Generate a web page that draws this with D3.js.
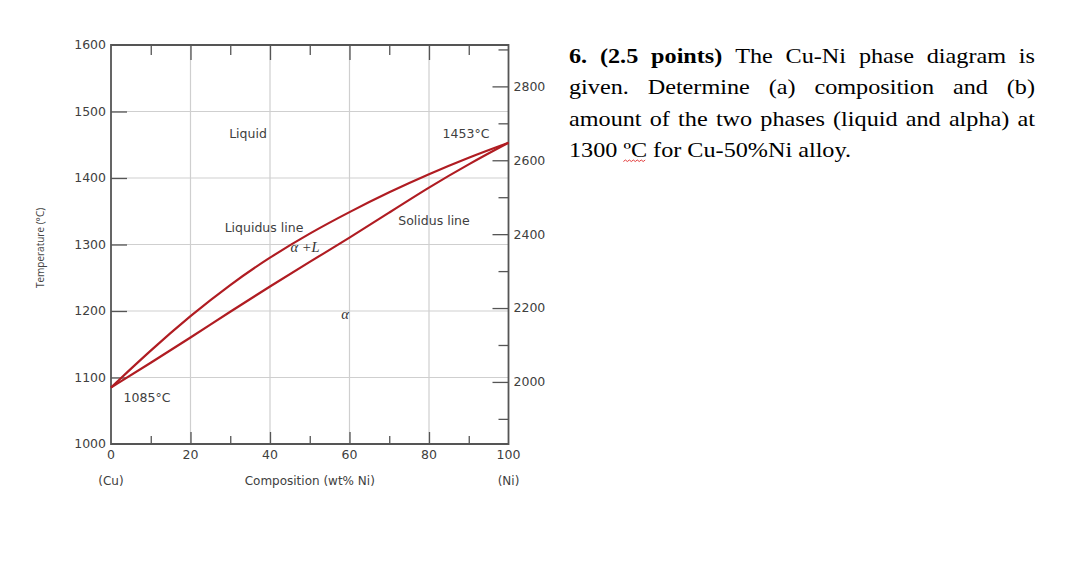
<!DOCTYPE html>
<html><head><meta charset="utf-8">
<script src="https://cdn.jsdelivr.net/npm/d3@7"></script>
<style>
body{margin:0;background:#fff;}
svg{display:block;}
</style></head>
<body>
<svg id="chart" width="1074" height="569"></svg>
<script>
// ---- data ----
const composition = [0,10,20,30,40,50,60,70,80,90,100];
const liquidus    = [1085,1141,1193,1240,1281,1317,1349,1379,1406,1431,1453];
const solidus     = [1085,1122,1160,1199,1237,1274,1310,1348,1386,1421,1453];
const xTickLabels = [0,20,40,60,80,100];
const xMinorTicks = [10,30,50,70,90];
const yTickLabels = [1000,1100,1200,1300,1400,1500,1600];
const fTickLabels = [2000,2200,2400,2600,2800];
const fMinorTicks = [1900,2100,2300,2500,2700,2900];
const questionLines = [
  {bold:"6. (2.5 points)", text:"The Cu-Ni phase diagram is", justify:true},
  {bold:"", text:"given. Determine (a) composition and (b)", justify:true},
  {bold:"", text:"amount of the two phases (liquid and alpha) at", justify:true},
  {bold:"", text:"1300 ºC for Cu-50%Ni alloy.", justify:false}
];

// ---- layout ----
const svg = d3.select("#chart");
const L = 111, T = 45, W = 397.5, H = 399;
const x = d3.scaleLinear().domain([0,100]).range([L, L+W]);
const y = d3.scaleLinear().domain([1000,1600]).range([T+H, T]);
const f2c = f => (f-32)*5/9;
const axisCol = "#555", gridCol = "#cfcfcf", txtCol = "#404040";
const sans = "DejaVu Sans, Verdana, sans-serif";
const tfs = 12.5;

// gridlines
const g = svg.append("g");
g.selectAll(".vg").data([20,40,60,80]).join("line")
  .attr("x1", d=>x(d)).attr("x2", d=>x(d)).attr("y1", T).attr("y2", T+H)
  .attr("stroke", gridCol).attr("stroke-width", 1.2);
g.selectAll(".hg").data([1100,1200,1300,1400,1500]).join("line")
  .attr("x1", L).attr("x2", L+W).attr("y1", d=>y(d)).attr("y2", d=>y(d))
  .attr("stroke", gridCol).attr("stroke-width", 1.2);

// axes using d3 axis generators (inner ticks)
const fmtNone = () => "";
function style(s){ s.select(".domain").remove(); s.selectAll("line").attr("stroke", axisCol).attr("stroke-width",1.3); }
svg.append("g").attr("transform", `translate(${L},0)`)
  .call(d3.axisRight(y).tickValues(yTickLabels.slice(1,6)).tickSize(16).tickFormat(fmtNone)).call(style);
svg.append("g").attr("transform", `translate(0,${T+H})`)
  .call(d3.axisTop(x).tickValues([20,40,60,80]).tickSize(12).tickFormat(fmtNone)).call(style);
svg.append("g").attr("transform", `translate(0,${T+H})`)
  .call(d3.axisTop(x).tickValues(xMinorTicks).tickSize(8).tickFormat(fmtNone)).call(style);
svg.append("g").attr("transform", `translate(0,${T})`)
  .call(d3.axisBottom(x).tickValues([20,40,60,80]).tickSize(15).tickFormat(fmtNone)).call(style);
svg.append("g").attr("transform", `translate(0,${T})`)
  .call(d3.axisBottom(x).tickValues(xMinorTicks).tickSize(10).tickFormat(fmtNone)).call(style);
// right Fahrenheit axis
svg.append("g").attr("transform", `translate(${L+W},0)`)
  .call(d3.axisLeft(y).tickValues(fTickLabels.map(f2c)).tickSize(16).tickFormat(fmtNone)).call(style);
svg.append("g").attr("transform", `translate(${L+W},0)`)
  .call(d3.axisLeft(y).tickValues(fMinorTicks.map(f2c)).tickSize(10).tickFormat(fmtNone)).call(style);

// frame
svg.append("path")
  .attr("d", `M${L},${T}H${L+W}V${T+H}H${L}Z`)
  .attr("fill","none").attr("stroke", axisCol).attr("stroke-width",1.8);

// tick labels
svg.selectAll(".yl").data(yTickLabels).join("text")
  .attr("x", L-5).attr("y", d=>y(d)).attr("dy","0.35em")
  .attr("text-anchor","end").attr("font-family",sans).attr("font-size",tfs)
  .attr("fill",txtCol).text(d=>d);
svg.selectAll(".xl").data(xTickLabels).join("text")
  .attr("x", d=>x(d)).attr("y", T+H+15)
  .attr("text-anchor","middle").attr("font-family",sans).attr("font-size",tfs)
  .attr("fill",txtCol).text(d=>d);
svg.selectAll(".fl").data(fTickLabels).join("text")
  .attr("x", L+W+5).attr("y", d=>y(f2c(d))).attr("dy","0.35em")
  .attr("text-anchor","start").attr("font-family",sans).attr("font-size",tfs)
  .attr("fill",txtCol).text(d=>d);

// axis titles
const lab = (t, xx, yy, anchor, size) =>
  svg.append("text").attr("x",xx).attr("y",yy).attr("text-anchor",anchor)
    .attr("font-family",sans).attr("font-size",size).attr("fill",txtCol).text(t);
lab("(Cu)", x(0), 485, "middle", 12);
lab("Composition (wt% Ni)", x(50), 485, "middle", 12);
lab("(Ni)", x(100), 485, "middle", 12);
svg.append("text").attr("transform","translate(44,248) rotate(-90)")
  .attr("text-anchor","middle").attr("font-family","Open Sans, Liberation Sans, sans-serif")
  .attr("font-size",10).attr("fill","#444").text("Temperature (°C)");

// curves
const line = d3.line().x((d,i)=>x(composition[i])).y(d=>y(d)).curve(d3.curveBasis);
[liquidus, solidus].forEach(s=>{
  svg.append("path").attr("d", line(s)).attr("fill","none")
    .attr("stroke","#b01c22").attr("stroke-width",2.2);
});

// annotations
lab("Liquid", 248, 138, "middle", 12.5);
lab("1453°C", 466, 138, "middle", 12.5);
lab("Liquidus line", 264, 232, "middle", 12.5);
lab("Solidus line", 434, 225, "middle", 12.5);
lab("1085°C", 147, 402, "middle", 12.5);
svg.append("text").attr("x",305).attr("y",252).attr("text-anchor","middle")
  .attr("font-family","Liberation Serif, serif").attr("font-style","italic").attr("font-size",14.5)
  .attr("fill","#333").text("α +L");
svg.append("text").attr("x",345).attr("y",319).attr("text-anchor","middle")
  .attr("font-family","Liberation Serif, serif").attr("font-style","italic").attr("font-size",14.5)
  .attr("fill","#333").text("α");

// question text, justified
const serif = "Liberation Serif, Times New Roman, serif";
const fs = 22, sx = 1.1, left = 569, right = 1035;
const baselines = [63, 94.5, 126, 157.5];
const tg = svg.append("g").attr("transform", `translate(${left},0) scale(${sx},1)`);
const localW = (right-left)/sx;
const measure = tg.append("text").attr("font-family",serif).attr("font-size",fs).attr("x",-1000).attr("y",-1000);
function wlen(w, bold){ measure.attr("font-weight", bold?"bold":"normal").text(w); return measure.node().getComputedTextLength(); }
const spaceW = wlen("a a") - wlen("aa");
questionLines.forEach((ln, i)=>{
  const words = [];
  if (ln.bold) ln.bold.split(" ").forEach(w=>words.push({w, b:true}));
  ln.text.split(" ").forEach(w=>words.push({w, b:false}));
  words.forEach(o=>o.len = wlen(o.w, o.b));
  const total = d3.sum(words, o=>o.len);
  const gap = ln.justify ? (localW-total)/(words.length-1) : spaceW;
  let cx = 0;
  words.forEach(o=>{
    tg.append("text").attr("x",cx).attr("y",baselines[i]).attr("font-family",serif)
      .attr("font-size",fs).attr("font-weight",o.b?"bold":"normal").attr("fill","#000").text(o.w);
    if (o.w === "ºC") {
      const x0 = cx, x1 = cx + o.len, yy = baselines[i] + 4;
      let d = `M${x0},${yy}`; let up = true;
      for (let xx = x0 + 1.8; xx <= x1 + 0.1; xx += 1.8) { d += `L${xx},${yy + (up? -1.5:0)}`; up = !up; }
      tg.append("path").attr("d", d).attr("fill","none").attr("stroke","#e03030").attr("stroke-width",0.9);
    }
    cx += o.len + gap;
  });
});
measure.remove();
</script>
</body></html>
